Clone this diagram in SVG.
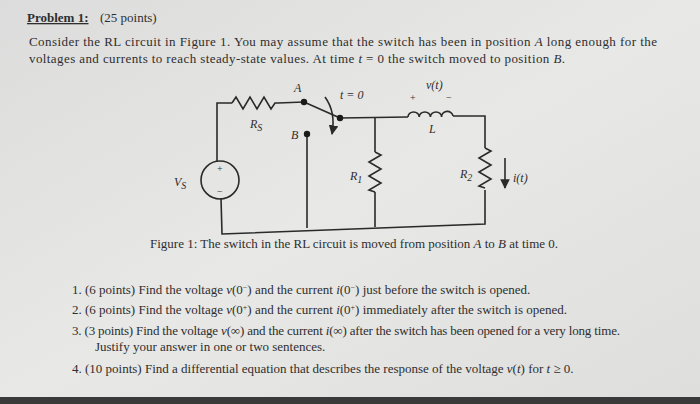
<svg xmlns="http://www.w3.org/2000/svg" width="700" height="404" viewBox="0 0 700 404">
<defs>
<linearGradient id="bg" x1="0" y1="0" x2="1" y2="1"><stop offset="0" stop-color="#dcdcdc"/><stop offset="0.5" stop-color="#e8e8e6"/><stop offset="1" stop-color="#dededc"/></linearGradient>
<marker id="ah" viewBox="0 0 10 10" refX="9" refY="5" markerWidth="6" markerHeight="6" orient="auto"><path d="M0,0 L10,5 L0,10 z" fill="#2a2a2a"/></marker>
<style>
text{font-family:"Liberation Serif","DejaVu Serif",serif;fill:#2e2e2e}
.t{font-size:13px}
.s{font-size:10px}
.c{font-size:12px;font-style:italic}
.w{fill:none;stroke:#2a2a2a;stroke-width:1.6}
.n{fill:#1a1a1a}
</style>
</defs>
<rect width="700" height="404" fill="url(#bg)"/>
<rect x="0" y="397" width="700" height="7" fill="#3a3a3a"/>
<text x="27" y="22" class="t" font-weight="bold" text-decoration="underline">Problem 1:</text>
<text x="100" y="22" class="t">(25 points)</text>
<text x="29" y="46" class="t" textLength="628" lengthAdjust="spacing">Consider the RL circuit in Figure 1.  You may assume that the switch has been in position <tspan font-style="italic">A</tspan> long enough for the</text>
<text x="29" y="63" class="t" textLength="536" lengthAdjust="spacing">voltages and currents to reach steady-state values.  At time <tspan font-style="italic">t</tspan> = 0 the switch moved to position <tspan font-style="italic">B</tspan>.</text>
<g id="connectors">
<path class="w" d="M217,162 L217,103 L232,103 M278,103 L304,102 M340,118 L408,117 M453,116 L485,116 L485,148 M485,190 L485,224 L222,234 L221,198 M375,117 L375,152 M375,192 L375,227 M307,134 L307,228"/>
<path class="w" d="M304,102 L340,118"/>
<path class="w" d="M325,97 Q336,112 332,134" marker-end="url(#ah)"/>
<path class="w" d="M505,158 L505,188" marker-end="url(#ah)"/>
</g>
<g id="Rs"><path class="w" d="M232,103 l4,-6 l7,12 l7,-12 l7,12 l7,-12 l7,12 l4,-6 l3,0"/><text x="250" y="128" class="c">R<tspan class="s" dy="3">S</tspan></text></g>
<g id="nodeA"><circle cx="304" cy="102" r="3.2" class="n"/><text x="294" y="92" class="c">A</text></g>
<g id="nodeB"><circle cx="307" cy="134" r="3.2" class="n"/><text x="291" y="139" class="c">B</text></g>
<g id="pivot"><circle cx="340" cy="118" r="3.2" class="n"/><text x="340" y="99" class="c">t = 0</text></g>
<g id="L"><path class="w" d="M408,117 a5.6,5 0 0 1 11.2,0 a5.6,5 0 0 1 11.2,0 a5.6,5 0 0 1 11.2,0 a5.6,5 0 0 1 11.4,-1"/><text x="426" y="89" class="c">v(t)</text><text x="410" y="101" class="s">+</text><text x="446" y="101" class="s">−</text><text x="429" y="133" class="c">L</text></g>
<g id="R1"><path class="w" d="M375,152 l6,3 l-12,7 l12,7 l-12,7 l12,7 l-12,7 l6,2"/><text x="350" y="180" class="c">R<tspan class="s" dy="3">1</tspan></text></g>
<g id="R2"><path class="w" d="M485,148 l6,3 l-12,7 l12,7 l-12,7 l12,7 l-12,7 l6,2"/><text x="460" y="178" class="c">R<tspan class="s" dy="3">2</tspan></text><text x="513" y="182" class="c">i(t)</text></g>
<g id="Vs"><circle cx="220" cy="180" r="19" class="w"/><text x="217" y="172" class="s">+</text><text x="217" y="195" class="s">−</text><text x="174" y="186" class="c">V<tspan class="s" dy="3">S</tspan></text></g>
<text x="150" y="248" class="t" font-size="11.5">Figure 1: The switch in the RL circuit is moved from position <tspan font-style="italic">A</tspan> to <tspan font-style="italic">B</tspan> at time 0.</text>
<g class="t" font-size="11.5">
<text x="72" y="294">1. (6 points) Find the voltage <tspan font-style="italic">v</tspan>(0<tspan dy="-4" font-size="8">−</tspan><tspan dy="4">) and the current </tspan><tspan font-style="italic">i</tspan>(0<tspan dy="-4" font-size="8">−</tspan><tspan dy="4">) just before the switch is opened.</tspan></text>
<text x="72" y="314">2. (6 points) Find the voltage <tspan font-style="italic">v</tspan>(0<tspan dy="-4" font-size="8">+</tspan><tspan dy="4">) and the current </tspan><tspan font-style="italic">i</tspan>(0<tspan dy="-4" font-size="8">+</tspan><tspan dy="4">) immediately after the switch is opened.</tspan></text>
<text x="72" y="335" textLength="548" lengthAdjust="spacing">3. (3 points) Find the voltage <tspan font-style="italic">v</tspan>(∞) and the current <tspan font-style="italic">i</tspan>(∞) after the switch has been opened for a very long time.</text>
<text x="95" y="351">Justify your answer in one or two sentences.</text>
<text x="72" y="373">4. (10 points) Find a differential equation that describes the response of the voltage <tspan font-style="italic">v</tspan>(<tspan font-style="italic">t</tspan>) for <tspan font-style="italic">t</tspan> ≥ 0.</text>
</g>
</svg>
